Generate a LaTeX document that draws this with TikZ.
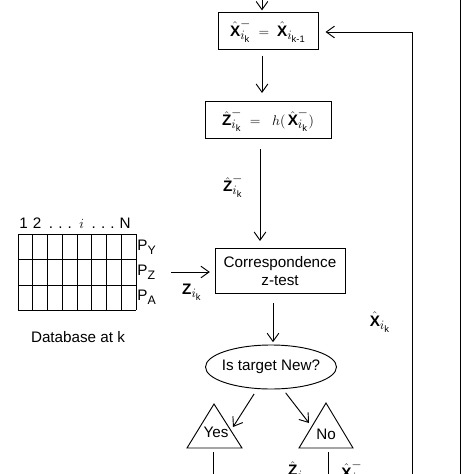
\documentclass[tikz,border=0pt]{standalone}
\usepackage{amsmath}
\usepackage{fontspec}
\setmainfont{Liberation Sans}
\usetikzlibrary{arrows.meta,shapes.geometric,positioning}
\DeclareMathSizes{13}{13}{10.5}{8}

\newcommand{\Xh}{\hat{\mbox{\bfseries X}}}
\newcommand{\Zh}{\hat{\mbox{\bfseries Z}}}
\newcommand{\ik}{i_{\text{k}}}

\begin{document}
\begin{tikzpicture}[x=0.03cm,y=-0.03cm,
  font=\fontsize{13}{15.5}\selectfont,
  line width=0.8pt,
  arr/.style={-{Straight Barb[length=7pt,width=10pt]}},
  box/.style={draw,inner sep=2pt,minimum height=1.1cm}]
% page size
\useasboundingbox (0,0) rectangle (474,474);
% columns of the main flow
\coordinate (c1) at (262,0);
\coordinate (c2) at (260,0);
\coordinate (c3) at (273,0);
% prediction boxes
\node[box,minimum width=3cm] (pred) at (268,31) {$\Xh^{-}_{\ik} \;=\; \Xh_{i_{\text{k-1}}}$};
\node[box,minimum width=3.78cm] (meas) at (268,120) {$\Zh^{-}_{\ik} \;=\;\; h(\,\Xh^{-}_{\ik})$};
\node (zhlab) at (233,186) {$\Zh^{-}_{\ik}$};
% correspondence test
\node[box,minimum width=3.9cm,minimum height=1.35cm,align=center,inner sep=1pt] (corr) at (280,271) {Correspondence\\z-test};
\node[draw,ellipse,inner xsep=-6pt,inner ysep=4pt,minimum width=3.93cm,minimum height=1.32cm] (isnew) at (271,367) {Is target New?};
% database
\foreach \c in {0,...,8}
  \draw (18+\c*14.75,234) -- (18+\c*14.75,310);
\foreach \r in {234,259,285,310}
  \draw (18,\r) -- (136,\r);
\node (hdr) at (75,223) {1\,\,2\,\,\,.\,\,.\,\,.\,\,\,$i$\,\,\,.\,\,.\,\,.\,\,N};
\node[anchor=west,inner sep=0pt] (py) at (137,247) {P$_{\text{Y}}$};
\node[anchor=west,inner sep=0pt] (pz) at (137,272) {P$_{\text{Z}}$};
\node[anchor=west,inner sep=0pt] (pa) at (137,297) {P$_{\text{A}}$};
\node (dbname) at (78,337) {Database at k};
\coordinate (zin) at (171,272);
\node (zlab) at (192,292) {$\mbox{\bfseries Z}_{\ik}$};
% decision triangles
\coordinate (yestop) at (214,404);
\coordinate (notop) at (326,403);
\draw (yestop) -- (242,448) -- (187,448) -- cycle;
\draw (notop) -- (353,448) -- (299,448) -- cycle;
\node (yes) at (216,432) {Yes};
\node (no) at (326,434) {No};
\coordinate (yesin) at (233,427);
\coordinate (noin) at (309,423);
% feedback lines
\coordinate (loop) at (412,32);
\coordinate (loopb) at (412,474);
\coordinate (outt) at (460,0);
\coordinate (outb) at (460,474);
\node (xlab) at (380,322) {$\Xh_{\ik}$};
\node[anchor=north,inner sep=0pt] (zbot) at (298,461) {$\Zh_{\ik}$};
\node[anchor=north west,inner sep=0pt] (xbot) at (341,461) {$\Xh^{-}_{\ik}$};
% connectors
\draw[arr,shorten >=1.5pt] (c1) -- (c1 |- pred.north);
\draw[arr,shorten <=5pt,shorten >=7pt] (c1 |- pred.south) -- (c1 |- meas.north);
\draw[arr,shorten <=9pt,shorten >=6pt] (c2 |- meas.south) -- (c2 |- corr.north);
\draw[arr,shorten >=4pt] (zin) -- (zin -| corr.west);
\draw[arr,shorten <=8pt,shorten >=2pt] (c3 |- corr.south) -- (c3 |- isnew.north);
\draw[arr,shorten <=5pt] (isnew.238) -- (yesin);
\draw[arr,shorten <=4pt] (isnew.298) -- (noin);
\draw (213,452) -- (213,474);
\draw (328,452) -- (328,474);
\draw[arr,shorten >=6pt] (loopb) -- (loop) -- (loop -| pred.east);
\draw (outt) -- (outb);
\end{tikzpicture}
\end{document}
